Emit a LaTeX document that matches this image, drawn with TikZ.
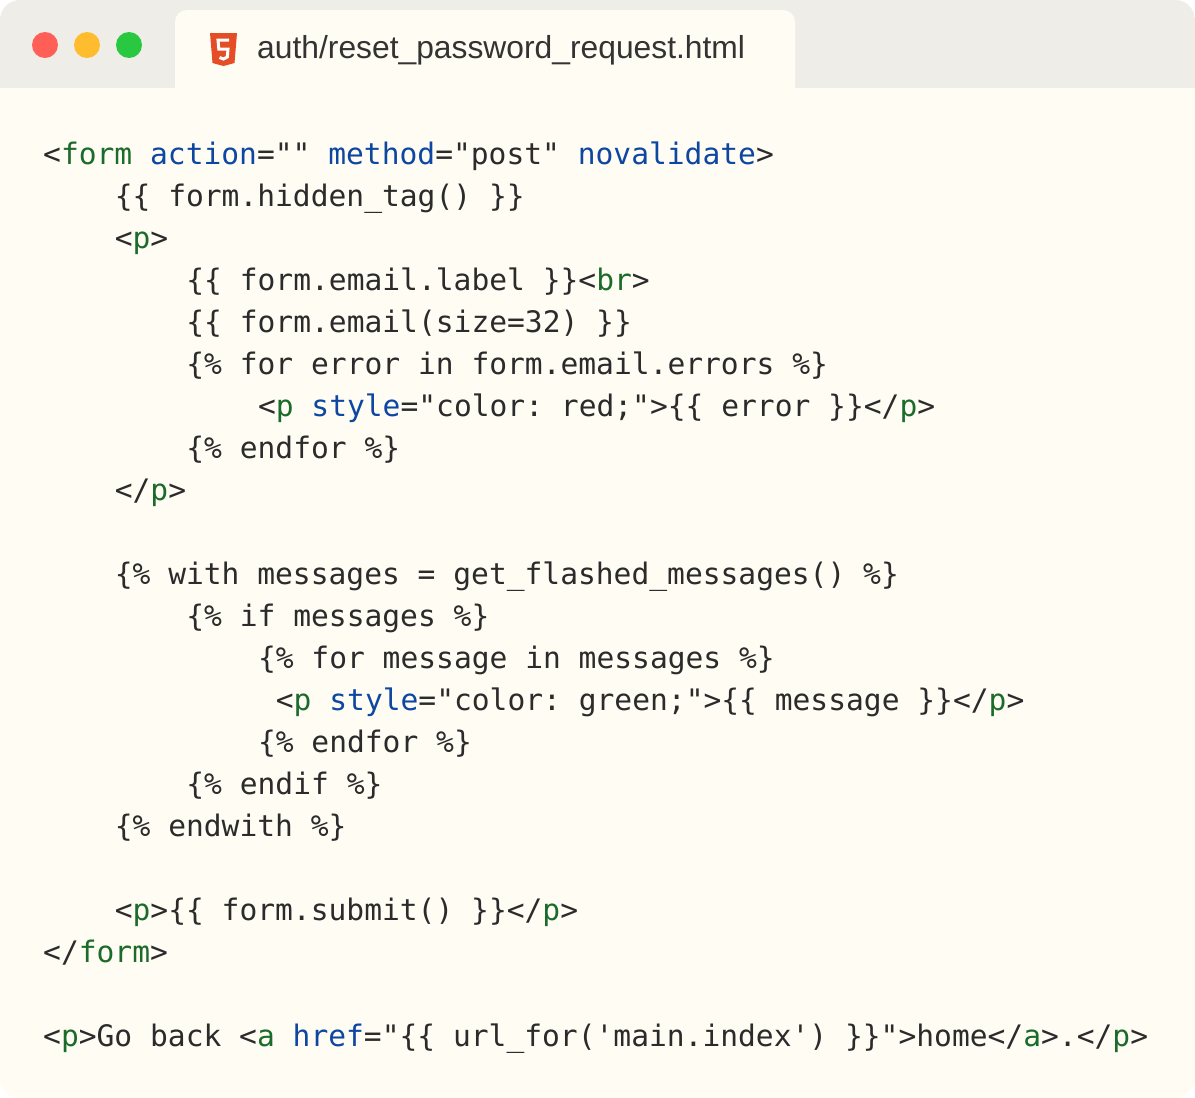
\documentclass[tikz,border=0pt]{standalone}
\usepackage{fontspec}
\setmainfont{Liberation Sans}
\setmonofont{DejaVu Sans Mono}
\definecolor{bodybg}{HTML}{FFFCF4}
\definecolor{barbg}{HTML}{EFEDE7}
\definecolor{tagc}{HTML}{1B6B2B}
\definecolor{attc}{HTML}{0D47A1}
\definecolor{txtc}{HTML}{2B2B2B}
\definecolor{dred}{HTML}{FF5F57}
\definecolor{dyel}{HTML}{FEBC2E}
\definecolor{dgrn}{HTML}{28C840}
\definecolor{html5}{HTML}{E44D26}
\definecolor{titlec}{HTML}{333333}
\newcommand{\tg}[1]{\textcolor{tagc}{#1}}
\newcommand{\at}[1]{\textcolor{attc}{#1}}
\tikzset{codeline/.style={anchor=base west,inner sep=0pt,text=txtc,font=\ttfamily\fontsize{29.6}{36}\selectfont},
dot/.style={circle,minimum size=26pt,inner sep=0pt}}
\begin{document}
\begin{tikzpicture}[x=1pt,y=-1pt]
\useasboundingbox (0,0) rectangle (1195,1098);
\fill[bodybg,rounded corners=20pt] (0,0) rectangle (1195,1098);
\begin{scope}
\clip[rounded corners=20pt] (0,0) rectangle (1195,1098);
\fill[barbg] (0,0) rectangle (1195,88);
\end{scope}
\fill[bodybg,rounded corners=12pt] (175,95) -- (175,10) -- (795,10) -- (795,95) -- cycle;
\fill[bodybg] (175,80) rectangle (795,95);
\node[dot,fill=dred] (c1) at (45,45) {};
\node[dot,fill=dyel] (c2) at (87,45) {};
\node[dot,fill=dgrn] (c3) at (129,45) {};
\fill[html5] (210,33) -- (237,33) -- (234.5,63) -- (223.5,66) -- (212.5,63) -- cycle;
\draw[white,line width=3pt] (229,40) -- (218,40) -- (218.8,49) -- (228,49) -- (227.3,57) -- (223.5,59) -- (219.5,57.5);
\node[anchor=west,inner sep=0pt,text=titlec,font=\fontsize{31.8}{36}\selectfont] (title) at (257,50) {auth/reset\_password\_request.html};
\newcommand{\cl}[3]{\node[codeline] (l#1) at (43+17.9*#2,{164+42*(#1-1)}) {#3};}
\cl{1}{0}{<\tg{form} \at{action}="" \at{method}="post" \at{novalidate}>}
\cl{2}{4}{\{\{ form.hidden\_tag() \}\}}
\cl{3}{4}{<\tg{p}>}
\cl{4}{8}{\{\{ form.email.label \}\}<\tg{br}>}
\cl{5}{8}{\{\{ form.email(size=32) \}\}}
\cl{6}{8}{\{\% for error in form.email.errors \%\}}
\cl{7}{12}{<\tg{p} \at{style}="color: red;">\{\{ error \}\}</\tg{p}>}
\cl{8}{8}{\{\% endfor \%\}}
\cl{9}{4}{</\tg{p}>}
\cl{11}{4}{\{\% with messages = get\_flashed\_messages() \%\}}
\cl{12}{8}{\{\% if messages \%\}}
\cl{13}{12}{\{\% for message in messages \%\}}
\cl{14}{13}{<\tg{p} \at{style}="color: green;">\{\{ message \}\}</\tg{p}>}
\cl{15}{12}{\{\% endfor \%\}}
\cl{16}{8}{\{\% endif \%\}}
\cl{17}{4}{\{\% endwith \%\}}
\cl{19}{4}{<\tg{p}>\{\{ form.submit() \}\}</\tg{p}>}
\cl{20}{0}{</\tg{form}>}
\cl{22}{0}{<\tg{p}>Go back <\tg{a} \at{href}="\{\{ url\_for('main.index') \}\}">home</\tg{a}>.</\tg{p}>}
\end{tikzpicture}
\end{document}
